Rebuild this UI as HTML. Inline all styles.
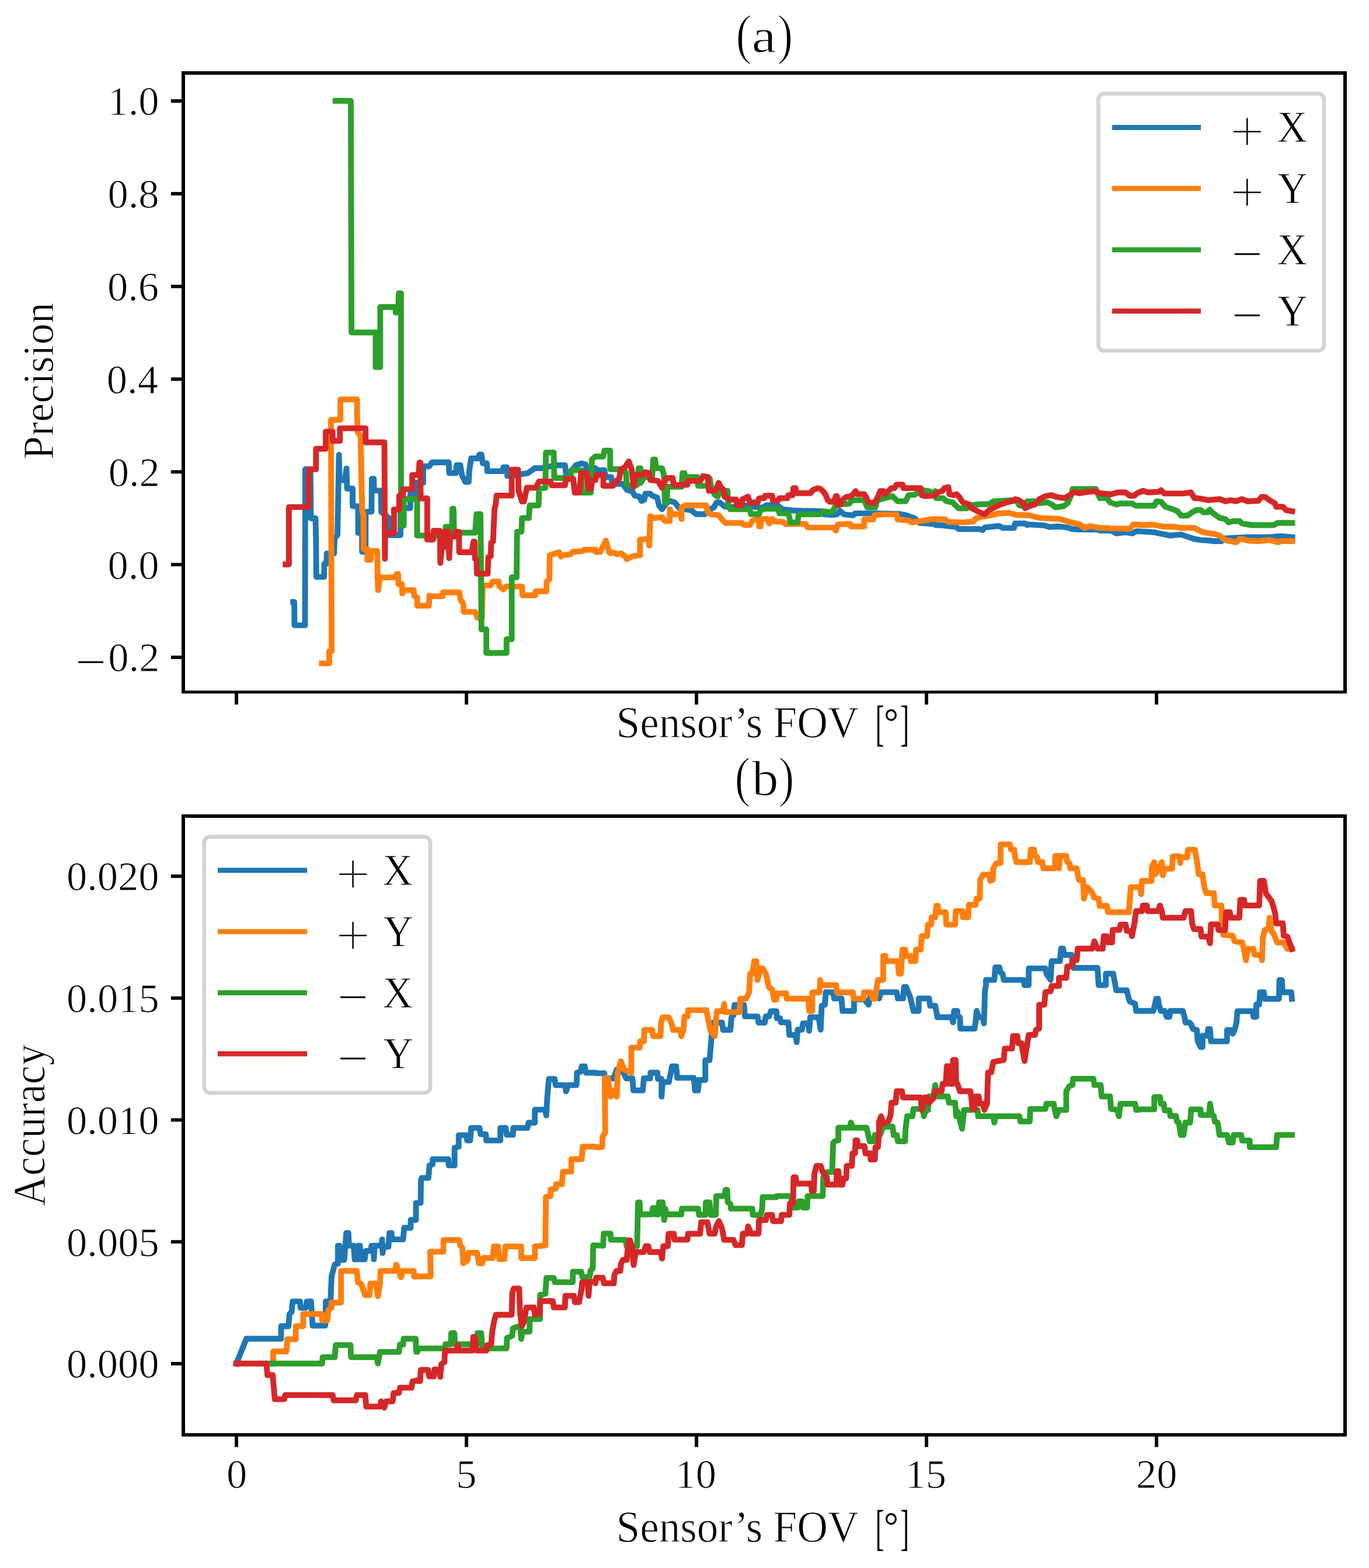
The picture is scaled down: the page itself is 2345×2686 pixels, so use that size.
<!DOCTYPE html>
<html><head><meta charset="utf-8"><title>Sensor FOV precision and accuracy</title><style>html,body{margin:0;padding:0;background:#fff;}svg{display:block;}</style></head><body>
<svg width="2345" height="2686" viewBox="0 0 2345 2686">
<rect x="0" y="0" width="2345" height="2686" fill="#ffffff"/>
<clipPath id="clipa"><rect x="314" y="125" width="1990" height="1060.5"/></clipPath>
<g clip-path="url(#clipa)">
<path d="M502.3 1031.3 L504.1 1031.3 L504.5 1071.1 L522.5 1071.1 L522.9 820.0 L522.9 803.9 L531.6 803.9 L532.1 840.0 L532.4 887.8 L540.5 887.8 L541.3 928.8 L541.8 988.3 L555.2 988.3 L555.5 965.7 L559.2 965.7 L559.7 948.1 L572.3 948.1 L573.1 922.1 L578.1 916.3 L580.6 779.0 L581.7 822.5 L591.2 822.5 L593.4 802.4 L594.5 837.0 L604.0 837.0 L604.0 867.1 L613.5 867.1 L613.5 912.9 L620.2 912.9 L620.2 945.3 L626.3 945.3 L626.3 876.6 L636.4 876.6 L636.9 820.3 L640.3 820.3 L640.8 840.4 L652.5 840.4 L653.1 877.2 L665.9 887.2 L666.5 916.8 L686.0 916.8 L686.0 870.5 L702.8 870.5 L702.8 846.5 L712.8 846.5 L712.8 827.0 L725.1 827.0 L725.0 827.1 L725.0 798.7 L735.1 798.7 L740.1 792.0 L768.6 792.0 L769.4 810.4 L781.1 810.4 L781.9 797.0 L788.6 797.0 L791.2 813.8 L797.0 825.5 L802.9 825.5 L803.7 807.1 L807.1 785.3 L818.8 785.3 L821.3 778.6 L824.6 778.6 L827.1 793.7 L833.8 793.7 L834.7 807.1 L860.6 807.1 L862.3 800.4 L868.2 800.4 L869.0 815.4 L875.7 815.4 L894.1 812.1 L904.2 810.4 L909.2 807.1 L915.9 802.0 L929.3 802.0 L942.7 798.7 L954.4 797.0 L967.8 797.0 L969.5 811.2 L976.2 811.2 L986.2 797.0 L996.2 793.7 L1002.9 795.3 L1004.6 802.9 L1020.0 802.0 L1020.1 805.5 L1035.2 805.5 L1037.7 817.2 L1046.9 817.2 L1048.6 827.2 L1055.2 828.9 L1067.0 828.9 L1073.7 839.0 L1083.7 842.3 L1087.1 849.0 L1095.4 850.7 L1098.8 858.2 L1103.8 855.7 L1105.5 845.7 L1113.8 845.7 L1117.2 849.0 L1125.6 852.4 L1128.9 865.7 L1133.9 872.4 L1139.0 865.7 L1145.7 857.4 L1155.7 860.7 L1164.1 870.8 L1184.2 874.1 L1192.5 880.8 L1207.6 880.8 L1214.3 874.1 L1222.7 869.1 L1227.7 860.7 L1232.7 860.7 L1241.1 867.4 L1251.1 869.1 L1276.2 865.7 L1300.0 869.1 L1300.0 869.8 L1307.3 869.0 L1312.5 865.5 L1331.5 865.5 L1340.2 872.4 L1355.7 874.2 L1373.0 875.0 L1407.6 875.6 L1411.1 881.1 L1424.9 882.0 L1433.6 881.1 L1438.8 875.0 L1445.7 881.1 L1461.3 882.8 L1464.7 879.4 L1504.5 879.4 L1539.1 880.2 L1552.9 882.8 L1566.8 888.0 L1575.4 895.8 L1600.0 897.5 L1602.1 899.2 L1615.9 900.1 L1629.8 901.8 L1638.4 902.7 L1641.9 906.2 L1676.5 906.2 L1683.4 907.9 L1686.9 903.6 L1702.4 901.8 L1711.1 901.0 L1718.0 904.4 L1737.0 904.4 L1738.8 896.7 L1756.1 896.7 L1759.5 899.2 L1763.0 898.4 L1788.9 900.1 L1797.6 902.7 L1814.9 901.8 L1828.7 903.6 L1835.6 906.2 L1849.5 907.0 L1866.8 907.0 L1880.6 907.0 L1884.1 908.8 L1900.0 908.8 L1905.2 909.9 L1912.8 913.7 L1927.9 911.8 L1939.3 913.7 L1946.9 909.9 L1977.3 911.8 L1984.9 913.7 L1996.2 915.6 L2003.8 917.5 L2022.8 915.6 L2034.2 919.4 L2045.6 923.2 L2057.0 925.1 L2072.1 926.0 L2079.7 927.0 L2093.0 927.0 L2098.7 922.2 L2117.7 921.3 L2136.7 920.3 L2155.6 920.3 L2174.6 920.3 L2193.6 918.4 L2213.5 920.3" fill="none" stroke="#1f77b4" stroke-width="9.9" stroke-linecap="square" stroke-linejoin="round"/>
<path d="M551.3 1136.4 L563.9 1136.4 L563.9 1115.5 L568.1 1115.5 L567.2 820.0 L566.9 719.3 L583.1 719.3 L583.1 684.2 L611.6 684.2 L611.6 707.6 L612.8 741.1 L617.5 746.1 L618.3 776.2 L619.5 840.0 L620.5 875.2 L622.5 880.3 L622.8 940.5 L629.2 940.5 L629.2 959.0 L635.0 959.0 L635.9 943.9 L646.3 943.9 L646.8 987.4 L647.6 1010.9 L650.9 989.1 L677.7 989.1 L679.4 983.2 L681.9 983.2 L682.8 1000.8 L688.6 1000.8 L689.1 1016.7 L691.1 1010.9 L708.7 1010.9 L709.5 1020.9 L714.6 1023.4 L714.9 1037.6 L734.7 1037.6 L735.5 1020.1 L736.7 1021.4 L758.5 1021.4 L758.8 1014.7 L787.0 1014.7 L788.6 1026.4 L793.7 1034.7 L794.5 1048.1 L813.8 1048.1 L817.9 1058.2 L825.5 1058.2 L827.1 1002.9 L840.5 1002.9 L843.9 996.2 L853.9 996.2 L855.6 1004.6 L862.3 1009.6 L867.3 1004.6 L894.1 1004.6 L895.0 1019.7 L916.7 1019.7 L917.6 1013.0 L936.0 1013.0 L936.3 996.2 L941.0 992.9 L941.8 951.0 L957.7 946.0 L961.1 953.6 L964.4 951.0 L977.8 949.4 L981.2 945.2 L996.2 944.3 L1001.3 941.8 L1020.0 941.8 L1020.1 945.3 L1028.5 945.3 L1030.1 941.1 L1033.5 934.4 L1037.7 926.0 L1043.5 946.1 L1045.2 947.8 L1050.2 946.1 L1056.9 949.5 L1063.6 947.8 L1070.3 952.8 L1073.7 957.8 L1083.7 952.8 L1096.3 951.1 L1096.3 924.3 L1100.5 924.3 L1110.5 922.7 L1112.2 934.4 L1113.8 884.2 L1120.5 887.5 L1133.9 885.8 L1139.0 892.5 L1147.3 892.5 L1147.3 872.4 L1150.7 880.8 L1165.7 880.8 L1167.4 889.2 L1167.4 869.1 L1174.1 865.7 L1209.3 865.7 L1212.6 877.5 L1217.6 880.8 L1231.0 882.5 L1237.7 890.9 L1242.8 895.9 L1271.2 895.9 L1274.6 899.2 L1284.6 899.2 L1288.0 892.5 L1296.3 889.2 L1300.0 890.9 L1300.0 890.9 L1300.4 901.8 L1303.0 901.8 L1303.8 888.9 L1314.2 888.9 L1317.7 896.7 L1322.9 888.9 L1326.3 893.2 L1341.9 894.1 L1345.4 897.5 L1379.9 897.5 L1383.4 903.6 L1428.4 903.6 L1431.8 908.8 L1435.3 898.4 L1456.1 897.5 L1457.8 901.8 L1480.3 901.8 L1480.3 889.7 L1495.8 889.7 L1497.6 882.8 L1511.4 881.1 L1535.6 881.1 L1537.4 889.7 L1556.4 891.5 L1561.6 894.9 L1584.1 891.5 L1600.0 888.9 L1619.4 889.7 L1624.6 894.1 L1650.5 894.9 L1667.8 893.2 L1671.3 888.0 L1679.9 885.4 L1686.9 884.5 L1697.2 882.8 L1711.1 879.4 L1728.4 878.5 L1740.5 882.0 L1763.0 882.8 L1780.3 887.1 L1814.9 888.9 L1832.2 894.1 L1849.5 898.4 L1858.1 904.4 L1866.8 901.0 L1884.1 904.4 L1900.0 904.4 L1901.4 905.1 L1935.5 905.7 L1941.2 898.5 L1965.9 899.5 L1973.5 898.5 L1994.4 902.3 L2011.4 902.3 L2022.8 904.2 L2045.6 904.2 L2053.2 908.0 L2060.8 911.8 L2079.7 914.6 L2089.2 917.5 L2098.7 925.1 L2117.7 928.9 L2123.4 923.2 L2127.2 923.2 L2136.7 926.0 L2155.6 927.0 L2174.6 925.1 L2189.8 928.9 L2193.6 927.0 L2213.5 927.0" fill="none" stroke="#ff7f0e" stroke-width="9.9" stroke-linecap="square" stroke-linejoin="round"/>
<path d="M574.8 172.7 L600.9 172.7 L602.1 569.5 L643.4 569.5 L643.4 628.9 L651.3 628.9 L651.3 526.0 L677.7 526.0 L677.7 535.2 L681.9 535.2 L683.1 502.5 L686.9 502.5 L686.9 840.0 L687.1 900.6 L691.6 900.6 L691.6 854.9 L714.5 854.9 L714.5 917.4 L728.4 917.4 L726.7 917.6 L761.9 917.6 L763.5 902.5 L774.4 902.5 L774.9 871.5 L776.9 871.5 L777.8 912.5 L813.8 912.5 L816.3 880.7 L823.0 880.7 L823.8 954.4 L824.7 1078.3 L833.1 1078.3 L833.1 1118.5 L867.7 1118.5 L867.7 1095.0 L876.6 1095.0 L876.6 989.0 L885.0 989.0 L884.9 987.9 L885.7 910.9 L893.3 910.9 L894.1 887.4 L905.8 887.4 L907.5 865.7 L922.6 865.7 L923.4 837.2 L934.3 835.5 L935.1 775.2 L948.5 775.2 L949.4 818.8 L977.8 818.8 L978.7 805.4 L995.4 805.4 L997.1 843.9 L1012.1 843.9 L1013.8 787.0 L1020.0 781.9 L1020.1 782.0 L1033.5 782.0 L1035.2 772.0 L1045.2 772.0 L1045.2 803.8 L1067.0 803.8 L1072.0 808.8 L1073.7 830.6 L1078.7 832.3 L1091.2 830.6 L1093.8 802.1 L1097.1 802.1 L1097.1 827.2 L1103.8 817.2 L1117.2 817.2 L1118.9 787.1 L1122.2 787.1 L1123.9 802.1 L1133.9 802.1 L1137.3 813.8 L1139.0 860.7 L1142.3 860.7 L1143.1 833.9 L1167.4 833.9 L1169.1 810.5 L1172.4 810.5 L1174.1 817.2 L1194.2 817.2 L1195.9 832.3 L1214.3 832.3 L1216.0 820.5 L1217.6 832.3 L1224.3 847.3 L1229.4 850.7 L1232.7 844.0 L1246.1 840.6 L1247.8 867.4 L1251.1 872.4 L1284.6 872.4 L1286.3 880.8 L1300.0 880.8 L1300.0 880.7 L1303.8 872.4 L1310.8 871.6 L1333.2 871.6 L1335.0 879.4 L1350.5 879.4 L1354.0 894.9 L1366.1 894.9 L1367.8 881.1 L1404.2 881.1 L1411.1 875.9 L1424.9 877.6 L1431.8 865.5 L1438.8 863.8 L1454.3 862.9 L1459.5 856.9 L1480.3 856.9 L1485.5 869.0 L1499.3 869.0 L1502.8 856.9 L1514.9 853.4 L1528.7 849.9 L1537.4 858.6 L1551.2 858.6 L1556.4 848.2 L1566.8 847.4 L1580.6 839.6 L1591.0 841.3 L1600.0 846.5 L1602.1 841.3 L1603.8 853.4 L1615.9 853.4 L1621.1 858.6 L1631.5 860.3 L1636.7 865.5 L1641.9 870.7 L1655.7 870.7 L1662.7 865.5 L1679.9 863.8 L1693.8 863.8 L1702.4 858.6 L1733.6 856.9 L1742.2 858.6 L1745.7 865.5 L1752.6 867.2 L1759.5 858.6 L1773.4 858.6 L1780.3 862.1 L1794.1 860.3 L1801.0 863.8 L1808.0 869.0 L1821.8 867.2 L1828.7 862.1 L1835.6 846.5 L1837.4 837.8 L1877.1 837.8 L1884.1 853.4 L1896.2 853.4 L1900.0 858.6 L1901.4 860.6 L1912.8 864.4 L1918.5 862.5 L1939.3 862.5 L1945.0 866.2 L1977.3 866.2 L1981.1 858.7 L1988.7 859.6 L1996.2 868.1 L2007.6 871.9 L2017.1 875.7 L2022.8 883.3 L2034.2 883.3 L2041.8 877.6 L2049.4 873.8 L2057.0 873.8 L2060.8 877.6 L2068.3 877.6 L2072.1 872.9 L2075.9 877.6 L2089.2 887.1 L2098.7 889.0 L2104.4 894.7 L2112.0 892.8 L2123.4 892.8 L2127.2 896.6 L2144.2 899.5 L2182.2 899.5 L2187.9 895.7 L2213.5 895.7" fill="none" stroke="#2ca02c" stroke-width="9.9" stroke-linecap="square" stroke-linejoin="round"/>
<path d="M489.2 966.8 L494.9 966.8 L494.9 868.6 L528.7 868.6 L528.7 820.0 L529.6 803.9 L541.3 803.9 L541.3 768.7 L558.0 768.7 L558.0 739.4 L569.8 739.4 L569.8 755.3 L582.3 755.3 L582.3 733.6 L626.2 733.6 L626.2 757.8 L658.5 757.8 L659.3 957.3 L659.8 913.5 L674.9 913.5 L674.9 872.7 L683.8 872.7 L683.8 849.3 L690.5 848.2 L690.5 838.1 L706.1 838.1 L706.1 813.6 L717.3 813.6 L718.4 792.4 L720.1 792.4 L720.6 853.8 L731.8 853.8 L731.8 924.1 L731.7 924.3 L741.8 924.3 L742.6 909.2 L753.5 909.2 L754.3 964.4 L756.8 937.6 L761.9 937.6 L762.7 910.9 L768.6 910.9 L769.4 956.1 L771.1 919.2 L777.8 919.2 L780.3 910.9 L786.1 910.9 L786.6 946.0 L807.9 946.0 L811.2 927.6 L812.9 927.6 L813.8 957.7 L816.3 959.4 L816.8 982.8 L835.5 982.8 L836.4 954.4 L840.5 952.7 L841.4 929.3 L844.7 927.6 L845.6 904.2 L847.2 870.7 L848.9 865.7 L850.6 848.9 L876.5 848.9 L876.5 804.5 L887.4 804.5 L888.3 840.5 L894.1 859.0 L897.5 859.0 L902.5 835.5 L917.6 835.5 L923.4 824.6 L942.7 824.6 L945.2 831.3 L967.8 831.3 L969.5 820.5 L982.0 820.5 L984.5 843.9 L992.1 843.9 L995.4 810.4 L1005.5 810.4 L1007.1 837.2 L1012.1 837.2 L1014.7 822.1 L1020.0 822.1 L1020.1 822.4 L1021.8 813.8 L1033.5 813.8 L1033.5 832.3 L1050.2 832.3 L1055.2 823.9 L1060.3 820.5 L1063.6 803.8 L1070.3 800.5 L1077.0 790.4 L1082.0 803.8 L1085.4 833.9 L1088.7 813.8 L1100.5 813.8 L1105.5 808.8 L1112.2 810.5 L1113.8 822.2 L1127.2 823.9 L1133.9 835.6 L1139.0 823.9 L1142.3 818.9 L1152.4 818.9 L1154.0 830.6 L1177.5 830.6 L1177.5 823.9 L1199.2 823.9 L1204.3 815.5 L1212.6 817.2 L1214.3 840.6 L1226.0 840.6 L1231.0 827.2 L1234.4 833.9 L1239.4 839.0 L1241.1 850.7 L1251.1 855.7 L1261.2 855.7 L1262.8 865.7 L1271.2 865.7 L1271.2 855.7 L1281.3 850.7 L1284.6 860.7 L1298.0 860.7 L1300.0 854.0 L1300.0 854.3 L1302.1 853.4 L1309.0 853.4 L1310.8 849.1 L1322.9 849.1 L1323.7 857.7 L1333.2 856.9 L1335.0 853.4 L1348.8 853.4 L1350.5 848.2 L1357.5 848.2 L1359.2 836.1 L1362.7 836.1 L1364.4 844.8 L1388.6 844.8 L1392.1 839.6 L1400.7 836.1 L1405.9 837.8 L1411.1 843.0 L1414.5 848.2 L1418.0 856.9 L1421.5 859.5 L1428.4 859.5 L1431.8 849.9 L1433.6 849.9 L1435.3 865.5 L1440.5 863.8 L1442.2 856.9 L1449.1 851.7 L1457.8 849.9 L1463.0 844.8 L1465.6 841.3 L1468.2 846.5 L1480.3 846.5 L1483.7 851.7 L1487.2 860.3 L1497.6 862.1 L1502.8 853.4 L1508.0 841.3 L1513.1 841.3 L1514.9 846.5 L1521.8 841.3 L1527.0 836.1 L1532.2 836.1 L1535.6 830.1 L1546.0 830.1 L1547.7 836.1 L1577.1 836.1 L1578.9 848.2 L1584.1 849.9 L1600.0 849.1 L1607.3 843.0 L1614.2 841.3 L1617.7 836.1 L1624.6 834.4 L1626.3 846.5 L1633.2 848.2 L1638.4 846.5 L1643.6 851.7 L1648.8 860.3 L1659.2 863.8 L1664.4 870.7 L1671.3 874.2 L1681.7 879.4 L1686.9 881.1 L1693.8 874.2 L1700.7 870.7 L1707.6 867.2 L1714.5 863.8 L1724.9 860.3 L1733.6 858.6 L1738.8 855.1 L1745.7 856.9 L1752.6 862.1 L1756.1 870.7 L1763.0 867.2 L1773.4 863.8 L1780.3 855.1 L1790.7 849.9 L1801.0 848.2 L1811.4 851.7 L1823.5 853.4 L1832.2 848.2 L1839.1 843.0 L1849.5 844.8 L1859.8 843.0 L1875.4 841.3 L1884.1 844.8 L1900.0 846.5 L1901.4 847.3 L1914.7 843.5 L1927.9 843.5 L1935.5 849.2 L1943.1 849.2 L1946.9 845.4 L1958.3 840.6 L1965.9 843.5 L1984.9 842.5 L1988.7 839.7 L1994.4 845.4 L2026.6 845.4 L2039.9 843.5 L2045.6 853.0 L2055.1 853.9 L2070.2 856.8 L2089.2 854.9 L2098.7 858.7 L2108.2 856.8 L2117.7 858.7 L2127.2 854.9 L2136.7 858.7 L2155.6 857.7 L2161.3 851.1 L2167.0 851.1 L2174.6 856.8 L2184.1 862.5 L2186.0 868.1 L2197.4 868.1 L2203.1 873.8 L2213.5 875.7" fill="none" stroke="#d62728" stroke-width="9.9" stroke-linecap="square" stroke-linejoin="round"/>
</g>
<path d="M311.0 122.0H2307.0V1187.9H311.0Z M317.0 127.9V1183.0H2301.0V127.9Z" fill="#000" fill-rule="evenodd"/>
<rect x="402.05" y="1185.5" width="5.9" height="21.40" fill="#000"/>
<rect x="796.05" y="1185.5" width="5.9" height="21.40" fill="#000"/>
<rect x="1190.05" y="1185.5" width="5.9" height="21.40" fill="#000"/>
<rect x="1584.05" y="1185.5" width="5.9" height="21.40" fill="#000"/>
<rect x="1978.05" y="1185.5" width="5.9" height="21.40" fill="#000"/>
<rect x="292.9" y="170.07" width="21.10" height="5.86" fill="#000"/>
<rect x="292.9" y="328.90" width="21.10" height="5.86" fill="#000"/>
<rect x="292.9" y="487.74" width="21.10" height="5.86" fill="#000"/>
<rect x="292.9" y="646.57" width="21.10" height="5.86" fill="#000"/>
<rect x="292.9" y="805.41" width="21.10" height="5.86" fill="#000"/>
<rect x="292.9" y="964.24" width="21.10" height="5.86" fill="#000"/>
<rect x="292.9" y="1123.07" width="21.10" height="5.86" fill="#000"/>
<g font-family="'Liberation Serif', 'DejaVu Serif', serif" fill="#000">
<text stroke="#fff" stroke-width="1.4" transform="translate(184.42 197.45) scale(0.7050 0.7000)" x="0" y="0" font-size="100">1.0</text>
<text stroke="#fff" stroke-width="1.4" transform="translate(184.42 356.28) scale(0.7050 0.7000)" x="0" y="0" font-size="100">0.8</text>
<text stroke="#fff" stroke-width="1.4" transform="translate(183.89 515.12) scale(0.7050 0.7000)" x="0" y="0" font-size="100">0.6</text>
<text stroke="#fff" stroke-width="1.4" transform="translate(182.83 673.95) scale(0.7050 0.7000)" x="0" y="0" font-size="100">0.4</text>
<text stroke="#fff" stroke-width="1.4" transform="translate(185.65 832.79) scale(0.7050 0.7000)" x="0" y="0" font-size="100">0.2</text>
<text stroke="#fff" stroke-width="1.4" transform="translate(184.42 991.62) scale(0.7050 0.7000)" x="0" y="0" font-size="100">0.0</text>
<text stroke="#fff" stroke-width="1.4" transform="translate(185.25 1150.45) scale(0.7050 0.7000)" x="0" y="0" font-size="100">0.2</text>
<text transform="translate(129.48 1153.65) scale(0.9230 0.6000)" x="0" y="0" font-size="100">&#8722;</text>
<text stroke="#fff" stroke-width="1.4" transform="translate(1055.56 1263.20) scale(0.7318 0.7542)" x="0" y="0" font-size="100">Sensor&#8217;s FOV</text>
<text transform="translate(1499.53 1268.38) scale(0.4494 0.8386)" x="0" y="0" font-size="100">[</text>
<text transform="translate(1514.03 1258.53) scale(0.6248 0.6545)" x="0" y="0" font-size="100">&#176;</text>
<text transform="translate(1542.33 1268.38) scale(0.4489 0.8386)" x="0" y="0" font-size="100">]</text>
<text stroke="#fff" stroke-width="1.4" transform="translate(90.76 787.17) rotate(-90) scale(0.7233 0.7361)" x="0" y="0" font-size="100">Precision</text>
<text stroke="#fff" stroke-width="2.0" transform="translate(1260.16 90.57) scale(0.8314 0.9613)" x="0" y="0" font-size="100">(</text>
<text stroke="#fff" stroke-width="1.4" transform="translate(1287.38 88.90) scale(0.9494 0.8021)" x="0" y="0" font-size="100">a</text>
<text stroke="#fff" stroke-width="2.0" transform="translate(1331.15 90.57) scale(0.8155 0.9613)" x="0" y="0" font-size="100">)</text>
</g>
<rect x="1881.4" y="160.4" width="386.5499999999997" height="440.35" rx="10" ry="10" fill="#ffffff" fill-opacity="0.8" stroke="#d3d3d3" stroke-width="6.7"/>
<g font-family="'Liberation Serif', 'DejaVu Serif', serif" fill="#000">
<line x1="1909.4" y1="218.3" x2="2052.6" y2="218.3" stroke="#1f77b4" stroke-width="8.8" stroke-linecap="square"/>
<text stroke="#fff" stroke-width="2.6" transform="translate(2106.37 259.77) scale(1.0667 1.0473)" x="0" y="0" font-size="100">+</text>
<text stroke="#fff" stroke-width="1.4" transform="translate(2187.38 243.10) scale(0.7179 0.7542)" x="0" y="0" font-size="100">X</text>
<line x1="1909.4" y1="322.9" x2="2052.6" y2="322.9" stroke="#ff7f0e" stroke-width="8.8" stroke-linecap="square"/>
<text stroke="#fff" stroke-width="2.6" transform="translate(2106.37 364.37) scale(1.0667 1.0473)" x="0" y="0" font-size="100">+</text>
<text stroke="#fff" stroke-width="1.4" transform="translate(2188.29 347.70) scale(0.7127 0.7542)" x="0" y="0" font-size="100">Y</text>
<line x1="1909.4" y1="427.8" x2="2052.6" y2="427.8" stroke="#2ca02c" stroke-width="8.8" stroke-linecap="square"/>
<text transform="translate(2110.29 455.35) scale(0.9230 0.6000)" x="0" y="0" font-size="100">&#8722;</text>
<text stroke="#fff" stroke-width="1.4" transform="translate(2187.38 452.60) scale(0.7179 0.7542)" x="0" y="0" font-size="100">X</text>
<line x1="1909.4" y1="532.9" x2="2052.6" y2="532.9" stroke="#d62728" stroke-width="8.8" stroke-linecap="square"/>
<text transform="translate(2110.29 560.45) scale(0.9230 0.6000)" x="0" y="0" font-size="100">&#8722;</text>
<text stroke="#fff" stroke-width="1.4" transform="translate(2188.29 557.70) scale(0.7127 0.7542)" x="0" y="0" font-size="100">Y</text>
</g>
<clipPath id="clipb"><rect x="314" y="1398" width="1990" height="1060"/></clipPath>
<g clip-path="url(#clipb)">
<path d="M404.9 2335.7 L422.0 2293.3 L481.5 2293.3 L481.5 2271.7 L494.1 2271.7 L495.9 2251.0 L499.5 2247.4 L501.3 2229.4 L513.9 2229.4 L514.8 2240.2 L523.8 2240.2 L525.6 2229.4 L532.8 2229.4 L535.5 2270.8 L557.2 2270.8 L558.1 2229.4 L566.2 2228.5 L568.0 2186.1 L573.4 2166.3 L578.8 2164.5 L578.8 2133.9 L581.5 2133.9 L582.4 2158.2 L589.6 2158.2 L593.2 2112.3 L596.8 2112.3 L597.7 2133.9 L605.8 2133.9 L607.6 2157.3 L613.0 2157.3 L613.9 2133.9 L616.6 2133.9 L618.4 2157.3 L624.7 2157.3 L626.5 2142.9 L634.6 2142.9 L636.4 2133.9 L640.0 2133.9 L640.4 2157.3 L641.8 2133.9 L653.6 2133.9 L654.5 2123.1 L655.4 2146.5 L657.2 2135.7 L665.3 2135.7 L667.1 2112.3 L670.7 2112.3 L671.6 2123.1 L690.5 2123.1 L692.3 2103.2 L703.5 2103.2 L703.5 2089.7 L712.5 2089.7 L712.5 2060.9 L720.5 2060.4 L721.1 2021.4 L722.3 2017.9 L733.9 2017.9 L735.7 1996.4 L741.1 1994.6 L741.1 1985.7 L767.9 1985.7 L768.8 1996.4 L778.6 1996.4 L778.6 1966.1 L785.7 1964.3 L785.7 1944.6 L800.0 1944.6 L800.0 1953.6 L805.4 1953.6 L807.1 1932.1 L821.4 1932.1 L823.2 1942.9 L832.1 1942.9 L833.0 1953.6 L857.1 1953.6 L857.1 1932.1 L866.1 1932.1 L867.9 1943.8 L878.6 1943.8 L879.5 1932.1 L903.6 1932.1 L905.4 1923.2 L916.1 1923.2 L916.1 1900.9 L933.9 1900.9 L935.7 1910.7 L937.5 1878.6 L940.2 1848.2 L950.0 1848.2 L951.8 1858.9 L967.9 1858.9 L969.6 1869.6 L973.2 1858.9 L987.5 1858.9 L988.4 1837.5 L994.6 1835.7 L996.4 1826.8 L1001.8 1826.8 L1003.6 1837.5 L1020.0 1837.5 L1020.0 1838.4 L1035.0 1838.4 L1036.8 1847.3 L1051.1 1847.3 L1056.4 1832.1 L1061.8 1832.1 L1068.9 1839.3 L1072.5 1847.3 L1083.2 1847.3 L1085.0 1867.9 L1101.1 1867.9 L1102.9 1847.3 L1113.6 1847.3 L1114.5 1837.5 L1126.1 1837.5 L1127.0 1848.2 L1133.2 1848.2 L1133.2 1878.6 L1135.0 1853.6 L1145.7 1853.6 L1147.5 1844.6 L1151.1 1826.8 L1158.2 1826.8 L1160.0 1846.4 L1188.6 1846.4 L1190.4 1867.9 L1195.7 1867.9 L1197.5 1850.0 L1208.2 1850.0 L1208.2 1816.1 L1215.4 1816.1 L1217.1 1796.4 L1218.9 1775.0 L1221.6 1751.8 L1236.8 1751.8 L1238.6 1764.3 L1251.1 1764.3 L1252.9 1742.9 L1256.4 1739.3 L1258.2 1721.4 L1274.3 1721.4 L1276.1 1741.1 L1297.5 1741.1 L1299.3 1751.8 L1310.0 1751.8 L1311.8 1741.1 L1317.1 1741.1 L1320.7 1732.1 L1330.0 1732.1 L1330.0 1733.6 L1330.7 1744.3 L1336.1 1744.3 L1337.9 1751.4 L1350.4 1751.4 L1352.1 1772.9 L1362.9 1772.9 L1364.6 1785.4 L1366.4 1763.9 L1373.6 1763.9 L1375.4 1753.2 L1384.3 1753.2 L1386.1 1765.7 L1387.9 1742.5 L1402.1 1742.5 L1405.7 1763.9 L1407.5 1722.9 L1412.9 1721.1 L1414.6 1699.6 L1427.1 1699.6 L1428.9 1710.4 L1441.4 1710.4 L1443.2 1731.8 L1462.9 1731.8 L1462.9 1712.1 L1480.7 1712.1 L1487.9 1721.1 L1491.4 1703.2 L1505.7 1710.4 L1509.3 1699.6 L1536.1 1699.6 L1537.9 1710.4 L1546.8 1710.4 L1548.6 1690.7 L1552.1 1690.7 L1555.7 1699.6 L1559.3 1708.6 L1564.6 1731.8 L1573.6 1731.8 L1573.6 1710.4 L1591.4 1710.4 L1593.2 1722.9 L1602.1 1722.9 L1605.7 1742.5 L1630.7 1742.5 L1632.5 1751.4 L1634.3 1731.8 L1640.0 1731.8 L1640.0 1740.7 L1644.3 1742.5 L1645.2 1762.1 L1669.3 1762.1 L1671.1 1751.4 L1672.9 1731.8 L1676.4 1742.5 L1683.6 1742.5 L1685.4 1753.2 L1687.1 1697.9 L1688.9 1687.1 L1688.9 1678.6 L1703.2 1678.6 L1705.0 1657.1 L1712.1 1657.1 L1713.9 1666.1 L1717.5 1667.9 L1719.3 1678.6 L1753.2 1678.6 L1755.0 1687.5 L1762.1 1687.5 L1762.1 1658.9 L1790.7 1658.9 L1792.5 1667.9 L1799.6 1678.6 L1801.4 1646.4 L1815.7 1646.4 L1817.5 1625.0 L1821.1 1625.0 L1822.9 1635.7 L1835.4 1635.7 L1837.1 1646.4 L1838.9 1658.0 L1880.0 1658.0 L1881.8 1687.5 L1894.3 1687.5 L1894.3 1667.9 L1906.8 1667.9 L1912.1 1696.4 L1930.0 1696.4 L1933.6 1710.7 L1935.4 1715.7 L1944.3 1719.3 L1946.1 1731.8 L1950.0 1731.8 L1950.0 1731.8 L1975.6 1731.8 L1980.5 1711.0 L1983.7 1711.0 L1985.3 1722.4 L1988.5 1731.8 L1995.0 1731.8 L1998.3 1741.8 L2003.1 1741.8 L2004.7 1731.8 L2025.8 1731.8 L2029.0 1741.8 L2030.6 1751.5 L2037.1 1751.5 L2040.3 1754.7 L2043.6 1762.8 L2050.0 1764.4 L2051.7 1783.9 L2056.5 1793.6 L2059.8 1793.6 L2059.8 1774.2 L2067.8 1774.2 L2069.5 1762.8 L2072.7 1762.8 L2074.3 1783.9 L2101.8 1783.9 L2101.8 1764.4 L2108.3 1764.4 L2111.5 1770.9 L2114.8 1764.4 L2118.0 1751.5 L2119.6 1732.1 L2145.5 1732.1 L2147.1 1741.8 L2152.0 1741.8 L2152.0 1720.7 L2156.9 1720.7 L2158.5 1699.7 L2164.9 1699.7 L2166.6 1711.0 L2190.8 1711.0 L2191.6 1679.0 L2195.7 1679.0 L2197.3 1699.7 L2211.9 1699.7 L2213.0 1711.0" fill="none" stroke="#1f77b4" stroke-width="9.9" stroke-linecap="square" stroke-linejoin="round"/>
<path d="M468.0 2335.7 L468.0 2315.0 L490.5 2315.0 L492.3 2294.2 L506.7 2294.2 L506.7 2271.7 L519.3 2271.7 L519.3 2251.0 L551.8 2251.0 L551.8 2261.8 L560.8 2261.8 L562.6 2243.8 L568.0 2240.2 L568.0 2231.2 L584.2 2231.2 L584.2 2177.1 L611.2 2177.1 L613.0 2196.9 L618.4 2198.7 L625.6 2218.6 L632.8 2218.6 L634.6 2198.7 L643.6 2198.7 L647.3 2220.4 L650.9 2198.7 L651.8 2177.1 L676.1 2177.1 L678.8 2166.3 L683.3 2177.1 L686.9 2187.9 L690.5 2177.1 L708.5 2177.1 L710.3 2187.0 L709.0 2186.5 L737.8 2186.5 L736.9 2144.1 L759.5 2144.1 L759.5 2124.3 L786.5 2124.3 L788.3 2133.3 L791.9 2136.9 L793.7 2164.0 L800.9 2158.6 L802.7 2145.9 L817.1 2145.9 L820.7 2164.0 L826.1 2164.0 L827.9 2155.0 L844.1 2155.0 L845.9 2135.1 L853.2 2135.1 L855.0 2156.8 L864.0 2156.8 L865.8 2135.1 L892.8 2135.1 L892.8 2155.0 L916.2 2155.0 L916.2 2135.1 L934.2 2133.3 L935.1 2050.5 L943.2 2048.6 L943.2 2037.8 L952.3 2036.0 L952.3 2028.8 L962.5 2028.6 L964.3 2007.1 L978.6 2007.1 L978.6 1985.7 L996.4 1985.7 L998.2 1964.3 L1020.0 1964.3 L1020.0 1965.0 L1031.4 1965.0 L1032.3 1947.1 L1036.8 1940.0 L1035.9 1846.4 L1041.2 1846.4 L1045.7 1878.6 L1051.1 1867.9 L1056.4 1878.6 L1058.2 1837.5 L1063.6 1817.9 L1068.9 1832.1 L1081.4 1837.5 L1081.4 1794.6 L1095.7 1794.6 L1096.6 1783.9 L1102.9 1783.9 L1103.8 1764.3 L1117.1 1764.3 L1118.9 1775.0 L1131.4 1775.0 L1132.3 1751.8 L1135.0 1742.9 L1145.7 1742.9 L1151.1 1755.4 L1152.9 1764.3 L1165.4 1764.3 L1167.1 1775.0 L1170.7 1764.3 L1172.5 1741.1 L1177.9 1741.1 L1178.8 1730.4 L1210.0 1730.4 L1213.6 1750.0 L1217.1 1766.1 L1224.3 1775.0 L1227.9 1732.1 L1238.6 1732.1 L1240.4 1719.6 L1242.1 1733.9 L1267.1 1733.9 L1268.0 1710.7 L1277.9 1710.7 L1283.2 1700.0 L1285.0 1667.9 L1288.6 1667.9 L1292.1 1646.4 L1295.7 1646.4 L1297.5 1678.6 L1302.9 1658.9 L1306.4 1658.9 L1311.8 1667.9 L1317.1 1691.1 L1322.5 1694.6 L1326.1 1712.5 L1330.0 1712.5 L1330.0 1711.6 L1330.7 1701.8 L1346.8 1701.8 L1347.7 1710.7 L1384.3 1710.7 L1386.1 1731.8 L1391.4 1731.8 L1391.4 1700.0 L1403.9 1700.0 L1404.8 1678.6 L1407.5 1687.5 L1432.5 1687.5 L1433.4 1700.0 L1461.1 1700.0 L1462.0 1710.7 L1478.9 1710.7 L1479.8 1700.0 L1491.4 1700.0 L1495.0 1710.7 L1498.6 1710.7 L1503.9 1678.6 L1512.9 1678.6 L1512.9 1637.5 L1516.4 1637.5 L1517.3 1646.4 L1537.9 1646.4 L1539.6 1667.9 L1543.2 1667.9 L1545.9 1626.8 L1550.4 1626.8 L1552.1 1637.5 L1559.3 1637.5 L1560.2 1646.4 L1568.2 1646.4 L1569.1 1626.8 L1577.1 1626.8 L1578.9 1603.6 L1587.9 1603.6 L1589.6 1583.9 L1595.0 1583.9 L1595.9 1571.4 L1602.1 1571.4 L1603.9 1551.8 L1606.6 1551.8 L1607.5 1562.5 L1620.0 1562.5 L1620.9 1583.9 L1636.1 1583.9 L1637.0 1560.7 L1640.0 1560.7 L1640.0 1560.7 L1648.8 1560.7 L1649.6 1571.4 L1658.6 1571.4 L1659.5 1550.0 L1671.1 1550.0 L1672.9 1539.3 L1678.2 1539.3 L1679.1 1507.1 L1683.6 1498.2 L1694.3 1498.2 L1696.1 1508.9 L1700.5 1507.1 L1701.4 1487.5 L1706.8 1478.6 L1713.9 1478.6 L1713.9 1446.4 L1730.0 1446.4 L1731.8 1455.4 L1737.1 1455.4 L1738.9 1467.9 L1740.7 1476.8 L1763.9 1476.8 L1765.7 1455.4 L1771.1 1455.4 L1772.9 1466.1 L1776.4 1467.9 L1778.2 1476.8 L1785.4 1476.8 L1787.1 1487.5 L1806.8 1487.5 L1807.7 1466.1 L1812.1 1466.1 L1813.9 1487.5 L1815.7 1466.1 L1826.4 1466.1 L1828.2 1476.8 L1831.8 1478.6 L1833.6 1487.5 L1844.3 1487.5 L1847.9 1507.1 L1855.0 1507.1 L1856.8 1539.3 L1862.1 1519.6 L1869.3 1526.8 L1874.6 1537.5 L1881.8 1539.3 L1883.6 1551.8 L1896.1 1551.8 L1897.9 1562.5 L1933.6 1562.5 L1935.4 1539.3 L1937.1 1519.6 L1950.0 1519.6 L1950.0 1519.5 L1952.9 1519.5 L1954.6 1531.7 L1956.2 1509.0 L1972.4 1509.0 L1973.2 1484.7 L1977.2 1476.6 L1978.8 1497.7 L1983.7 1489.6 L1990.2 1476.6 L1991.8 1499.3 L1995.0 1488.0 L2008.0 1488.0 L2008.8 1466.9 L2020.9 1466.9 L2021.7 1478.3 L2022.5 1468.5 L2033.9 1468.5 L2034.7 1455.6 L2046.8 1455.6 L2050.0 1473.4 L2053.3 1497.7 L2059.8 1497.7 L2063.0 1520.3 L2066.2 1530.0 L2079.2 1530.0 L2080.8 1551.1 L2092.1 1551.1 L2092.9 1578.6 L2095.4 1601.3 L2111.5 1602.9 L2114.8 1612.6 L2127.7 1614.2 L2131.0 1627.1 L2134.2 1644.9 L2137.4 1625.5 L2147.1 1625.5 L2148.8 1635.2 L2160.1 1636.9 L2161.7 1644.9 L2163.3 1606.1 L2166.6 1593.2 L2173.0 1589.9 L2174.7 1572.1 L2177.9 1594.8 L2182.7 1601.3 L2187.6 1614.2 L2198.9 1614.2 L2205.4 1625.5 L2213.0 1625.5" fill="none" stroke="#ff7f0e" stroke-width="9.9" stroke-linecap="square" stroke-linejoin="round"/>
<path d="M456.3 2335.7 L551.8 2335.7 L552.7 2324.9 L573.4 2324.9 L575.2 2304.1 L600.4 2304.1 L601.3 2324.9 L645.5 2324.9 L647.3 2335.7 L650.9 2315.9 L683.3 2315.9 L685.1 2303.2 L690.5 2303.2 L691.4 2293.3 L712.1 2293.3 L713.0 2315.9 L715.0 2315.9 L715.3 2309.9 L761.3 2309.9 L763.1 2302.7 L772.1 2302.7 L773.0 2283.8 L778.4 2283.8 L779.3 2302.7 L816.2 2302.7 L818.0 2283.8 L824.3 2283.8 L826.1 2306.3 L829.7 2309.9 L867.6 2309.9 L868.5 2291.9 L877.5 2288.3 L878.4 2275.7 L887.4 2272.1 L891.0 2273.9 L892.8 2293.7 L894.6 2281.1 L907.2 2281.1 L907.2 2259.5 L925.2 2259.5 L925.2 2218.0 L934.2 2216.2 L936.0 2189.2 L948.6 2189.2 L950.5 2196.4 L981.1 2196.4 L981.1 2178.4 L995.5 2178.4 L997.3 2187.4 L1009.9 2187.4 L1011.7 2176.6 L1015.3 2173.0 L1016.2 2133.3 L1020.0 2133.3 L1020.0 2133.4 L1033.2 2133.8 L1034.1 2113.2 L1045.7 2113.2 L1046.6 2123.9 L1071.6 2123.9 L1073.4 2134.6 L1091.2 2134.6 L1093.0 2059.6 L1095.7 2059.6 L1096.6 2080.2 L1117.1 2080.2 L1118.0 2069.5 L1121.6 2069.5 L1123.4 2080.2 L1127.9 2080.2 L1128.8 2059.6 L1135.0 2059.6 L1135.9 2070.4 L1137.7 2090.0 L1139.5 2070.4 L1142.1 2080.2 L1167.1 2080.2 L1168.0 2070.4 L1195.7 2070.4 L1197.5 2081.1 L1208.2 2081.1 L1209.1 2059.6 L1215.4 2059.6 L1217.1 2081.1 L1226.1 2081.1 L1227.0 2048.9 L1240.4 2048.9 L1243.0 2038.2 L1245.7 2038.2 L1246.6 2059.6 L1251.1 2062.3 L1252.0 2070.4 L1288.6 2070.4 L1289.5 2081.1 L1302.9 2081.1 L1305.5 2070.4 L1306.4 2050.7 L1330.0 2050.7 L1330.0 2048.9 L1355.7 2048.9 L1356.6 2068.6 L1366.4 2068.6 L1368.2 2057.9 L1373.6 2057.9 L1375.4 2068.6 L1382.5 2068.6 L1383.4 2048.9 L1409.3 2048.9 L1410.2 2016.8 L1416.4 2007.9 L1425.4 2007.9 L1427.1 1957.9 L1429.8 1955.0 L1436.1 1953.2 L1436.1 1931.8 L1455.7 1931.8 L1457.5 1922.9 L1461.1 1931.8 L1484.3 1931.8 L1489.6 1955.0 L1496.8 1955.0 L1498.6 1944.3 L1507.5 1944.3 L1512.9 1930.0 L1528.9 1930.0 L1530.7 1944.3 L1536.1 1944.3 L1537.9 1955.0 L1550.4 1955.0 L1551.2 1933.6 L1553.9 1912.1 L1562.9 1912.1 L1564.6 1899.6 L1580.7 1899.6 L1582.5 1912.1 L1586.1 1901.4 L1589.6 1901.4 L1591.4 1878.2 L1598.6 1878.2 L1602.1 1858.6 L1605.7 1878.2 L1623.6 1878.2 L1625.4 1888.9 L1636.1 1888.9 L1637.9 1912.1 L1640.0 1912.1 L1640.7 1905.0 L1647.9 1933.6 L1651.4 1901.4 L1674.6 1901.4 L1675.5 1912.1 L1701.4 1912.1 L1703.2 1922.9 L1705.0 1912.1 L1746.1 1912.1 L1747.9 1921.1 L1763.9 1921.1 L1764.8 1899.6 L1790.7 1899.6 L1792.5 1890.7 L1805.0 1890.7 L1806.8 1901.4 L1809.5 1912.1 L1813.9 1901.4 L1826.4 1901.4 L1826.4 1869.3 L1831.8 1860.4 L1837.1 1858.6 L1838.0 1847.9 L1872.9 1847.9 L1874.6 1858.6 L1885.4 1858.6 L1887.1 1878.2 L1901.4 1878.2 L1903.2 1899.6 L1913.9 1901.4 L1916.6 1912.1 L1919.3 1890.7 L1944.3 1890.7 L1946.1 1901.4 L1950.0 1901.4 L1950.0 1900.4 L1977.2 1900.4 L1977.2 1879.3 L1986.9 1879.3 L1988.5 1890.7 L1993.4 1890.7 L1995.0 1902.0 L2003.1 1902.0 L2004.7 1911.7 L2014.4 1911.7 L2016.1 1921.4 L2019.3 1923.0 L2022.5 1944.1 L2027.4 1944.1 L2030.6 1923.0 L2038.7 1923.0 L2040.3 1900.4 L2056.5 1900.4 L2056.5 1910.1 L2071.1 1910.1 L2072.7 1890.7 L2075.9 1910.1 L2079.2 1911.7 L2080.8 1921.4 L2085.6 1923.0 L2087.3 1932.7 L2088.9 1944.1 L2101.8 1944.1 L2105.1 1957.0 L2111.5 1957.0 L2113.2 1944.1 L2126.1 1944.1 L2127.7 1953.8 L2140.7 1953.8 L2140.7 1965.1 L2186.0 1965.1 L2187.6 1944.1 L2213.0 1944.1" fill="none" stroke="#2ca02c" stroke-width="9.9" stroke-linecap="square" stroke-linejoin="round"/>
<path d="M404.9 2335.7 L456.3 2335.7 L458.1 2355.5 L467.1 2355.5 L470.7 2396.9 L486.9 2396.9 L488.7 2389.7 L569.8 2389.7 L571.6 2398.7 L609.4 2398.7 L611.2 2389.7 L625.6 2389.7 L627.4 2409.5 L650.9 2409.5 L652.7 2400.5 L658.1 2411.4 L661.7 2400.5 L672.5 2400.5 L674.3 2386.1 L683.3 2386.1 L685.1 2377.1 L704.9 2377.1 L706.7 2366.3 L715.0 2364.5 L715.0 2365.8 L719.8 2365.8 L720.7 2346.8 L733.3 2346.8 L735.1 2357.7 L743.2 2357.7 L744.1 2345.9 L752.3 2345.9 L754.1 2358.6 L755.9 2336.9 L761.3 2333.3 L762.2 2313.5 L782.9 2313.5 L783.8 2303.6 L785.6 2313.5 L809.0 2313.5 L810.8 2290.1 L813.5 2290.1 L816.2 2313.5 L833.3 2313.5 L834.2 2304.5 L841.4 2302.7 L843.2 2281.1 L846.8 2261.3 L849.5 2252.3 L876.6 2252.3 L877.5 2214.4 L880.2 2207.2 L889.2 2207.2 L891.0 2250.5 L893.7 2272.1 L897.3 2264.9 L901.8 2239.6 L914.4 2239.6 L916.2 2252.3 L924.3 2250.5 L925.2 2228.8 L946.8 2228.8 L948.6 2239.6 L967.6 2239.6 L968.5 2219.8 L982.9 2219.8 L984.7 2230.6 L991.9 2230.6 L996.4 2207.2 L997.3 2196.4 L1006.3 2196.4 L1008.1 2219.8 L1009.9 2196.4 L1020.0 2194.6 L1020.1 2198.3 L1021.2 2188.8 L1032.4 2188.8 L1034.6 2198.3 L1051.4 2198.3 L1052.5 2183.8 L1055.8 2177.1 L1062.5 2177.1 L1063.7 2164.8 L1067.0 2158.1 L1073.7 2158.1 L1074.8 2142.5 L1077.6 2124.6 L1079.3 2124.6 L1082.6 2138.0 L1085.4 2167.1 L1088.2 2149.2 L1089.3 2144.7 L1102.7 2144.7 L1106.1 2134.7 L1110.5 2134.7 L1112.8 2144.7 L1131.7 2144.7 L1134.0 2155.9 L1136.2 2134.7 L1144.0 2134.7 L1145.1 2113.5 L1154.1 2113.5 L1155.2 2123.5 L1177.5 2123.5 L1178.6 2113.5 L1190.0 2113.5 L1199.3 2113.2 L1201.1 2093.6 L1211.8 2093.6 L1215.4 2113.2 L1224.3 2113.2 L1226.1 2102.5 L1231.4 2091.8 L1236.8 2104.3 L1240.4 2123.9 L1256.4 2123.9 L1260.0 2132.9 L1270.7 2132.9 L1272.5 2113.2 L1279.6 2113.2 L1281.4 2100.7 L1286.8 2113.2 L1299.3 2113.2 L1300.2 2090.0 L1311.8 2090.0 L1313.6 2081.1 L1322.5 2081.1 L1324.3 2091.8 L1330.0 2091.8 L1330.0 2091.8 L1337.9 2091.8 L1338.8 2081.1 L1352.1 2081.1 L1353.0 2061.4 L1358.4 2061.4 L1359.3 2016.8 L1362.9 2016.8 L1364.6 2027.5 L1389.6 2027.5 L1390.5 2040.0 L1394.1 2040.0 L1395.0 2011.4 L1398.6 1997.1 L1405.7 1997.1 L1409.3 2007.9 L1416.4 2016.8 L1417.3 2029.3 L1432.5 2029.3 L1433.4 2006.1 L1436.1 2006.1 L1437.9 2029.3 L1443.2 2029.3 L1445.0 2018.6 L1449.5 2018.6 L1450.4 1997.1 L1459.3 1997.1 L1460.2 1975.7 L1464.6 1975.7 L1465.5 1953.4 L1468.2 1953.4 L1470.0 1963.2 L1480.7 1963.2 L1482.5 1975.7 L1490.5 1975.7 L1491.4 1986.4 L1498.6 1986.4 L1499.5 1965.0 L1503.9 1965.0 L1505.7 1940.0 L1505.7 1922.9 L1509.3 1912.1 L1512.9 1924.6 L1521.8 1921.1 L1525.4 1910.4 L1527.1 1888.9 L1534.3 1888.9 L1536.1 1869.3 L1545.0 1869.3 L1546.8 1880.0 L1577.1 1880.0 L1578.9 1901.4 L1584.3 1880.0 L1587.9 1880.0 L1591.4 1888.9 L1598.6 1881.8 L1602.1 1869.3 L1612.9 1869.3 L1614.6 1856.8 L1620.0 1856.8 L1621.8 1826.4 L1625.4 1826.4 L1627.1 1856.8 L1631.6 1856.8 L1632.5 1815.7 L1637.0 1815.7 L1637.9 1856.8 L1640.0 1856.8 L1640.7 1858.6 L1644.3 1869.3 L1662.1 1869.3 L1663.9 1880.0 L1665.7 1899.6 L1669.3 1899.6 L1671.1 1878.2 L1676.4 1878.2 L1678.2 1890.7 L1683.6 1890.7 L1686.2 1901.4 L1690.7 1890.7 L1692.5 1837.1 L1697.9 1837.1 L1701.4 1819.3 L1719.3 1815.7 L1721.1 1796.1 L1733.6 1796.1 L1735.4 1774.6 L1742.5 1774.6 L1744.3 1787.1 L1749.6 1787.1 L1755.0 1817.5 L1758.6 1794.3 L1762.1 1772.9 L1772.9 1772.9 L1774.6 1763.9 L1780.0 1762.1 L1780.0 1721.1 L1788.9 1721.1 L1790.7 1699.6 L1799.6 1697.9 L1801.4 1688.9 L1813.9 1688.9 L1813.9 1675.0 L1826.4 1675.0 L1828.2 1655.4 L1835.4 1655.4 L1837.1 1644.6 L1844.3 1644.6 L1846.1 1625.0 L1871.1 1625.0 L1874.6 1612.5 L1880.0 1625.0 L1888.9 1625.0 L1890.7 1603.6 L1896.1 1603.6 L1897.9 1614.3 L1905.0 1614.3 L1905.9 1592.9 L1917.5 1592.9 L1919.3 1583.9 L1928.2 1583.9 L1930.0 1594.6 L1937.1 1594.6 L1938.9 1603.6 L1942.5 1585.7 L1946.1 1560.7 L1950.0 1560.7 L1950.0 1560.8 L1956.2 1560.8 L1957.8 1551.1 L1964.3 1551.1 L1965.9 1560.8 L1983.7 1560.8 L1986.9 1551.1 L1990.2 1560.8 L1991.8 1572.1 L2027.4 1572.1 L2030.6 1560.8 L2040.3 1560.8 L2042.0 1581.8 L2045.2 1591.5 L2056.5 1591.5 L2058.1 1604.5 L2069.5 1604.5 L2072.7 1615.8 L2074.3 1583.4 L2085.6 1583.4 L2087.3 1593.2 L2098.6 1593.2 L2100.2 1562.4 L2106.7 1562.4 L2108.3 1572.1 L2122.9 1572.1 L2124.5 1541.4 L2131.0 1541.4 L2132.6 1551.1 L2156.9 1551.1 L2158.5 1509.0 L2164.9 1509.0 L2168.2 1530.0 L2173.0 1536.5 L2177.9 1543.0 L2181.1 1552.7 L2184.4 1565.6 L2186.0 1581.8 L2197.3 1581.8 L2198.9 1602.9 L2205.4 1604.5 L2208.6 1614.2 L2213.0 1625.5" fill="none" stroke="#d62728" stroke-width="9.9" stroke-linecap="square" stroke-linejoin="round"/>
</g>
<path d="M311.0 1395.1H2307.0V2460.8H311.0Z M317.0 1400.9V2455.0H2301.0V1400.9Z" fill="#000" fill-rule="evenodd"/>
<rect x="402.05" y="2458" width="5.9" height="20.80" fill="#000"/>
<rect x="796.05" y="2458" width="5.9" height="20.80" fill="#000"/>
<rect x="1190.05" y="2458" width="5.9" height="20.80" fill="#000"/>
<rect x="1584.05" y="2458" width="5.9" height="20.80" fill="#000"/>
<rect x="1978.05" y="2458" width="5.9" height="20.80" fill="#000"/>
<rect x="292.9" y="2333.07" width="21.10" height="5.86" fill="#000"/>
<rect x="292.9" y="2124.32" width="21.10" height="5.86" fill="#000"/>
<rect x="292.9" y="1915.57" width="21.10" height="5.86" fill="#000"/>
<rect x="292.9" y="1706.82" width="21.10" height="5.86" fill="#000"/>
<rect x="292.9" y="1498.07" width="21.10" height="5.86" fill="#000"/>
<g font-family="'Liberation Serif', 'DejaVu Serif', serif" fill="#000">
<text stroke="#fff" stroke-width="1.4" transform="translate(113.92 2360.45) scale(0.7050 0.7000)" x="0" y="0" font-size="100">0.000</text>
<text stroke="#fff" stroke-width="1.4" transform="translate(114.09 2151.70) scale(0.7050 0.7000)" x="0" y="0" font-size="100">0.005</text>
<text stroke="#fff" stroke-width="1.4" transform="translate(113.92 1942.95) scale(0.7050 0.7000)" x="0" y="0" font-size="100">0.010</text>
<text stroke="#fff" stroke-width="1.4" transform="translate(114.09 1734.20) scale(0.7050 0.7000)" x="0" y="0" font-size="100">0.015</text>
<text stroke="#fff" stroke-width="1.4" transform="translate(113.92 1525.45) scale(0.7050 0.7000)" x="0" y="0" font-size="100">0.020</text>
<text stroke="#fff" stroke-width="1.4" transform="translate(387.88 2549.30) scale(0.7050 0.7000)" x="0" y="0" font-size="100">0</text>
<text stroke="#fff" stroke-width="1.4" transform="translate(781.26 2549.30) scale(0.7050 0.7000)" x="0" y="0" font-size="100">5</text>
<text stroke="#fff" stroke-width="1.4" transform="translate(1156.49 2549.30) scale(0.7050 0.7000)" x="0" y="0" font-size="100">10</text>
<text stroke="#fff" stroke-width="1.4" transform="translate(1550.58 2549.30) scale(0.7050 0.7000)" x="0" y="0" font-size="100">15</text>
<text stroke="#fff" stroke-width="1.4" transform="translate(1945.99 2549.30) scale(0.7050 0.7000)" x="0" y="0" font-size="100">20</text>
<text stroke="#fff" stroke-width="1.4" transform="translate(1055.56 2640.80) scale(0.7318 0.7542)" x="0" y="0" font-size="100">Sensor&#8217;s FOV</text>
<text transform="translate(1499.53 2645.98) scale(0.4494 0.8386)" x="0" y="0" font-size="100">[</text>
<text transform="translate(1514.03 2636.13) scale(0.6248 0.6545)" x="0" y="0" font-size="100">&#176;</text>
<text transform="translate(1542.33 2645.98) scale(0.4489 0.8386)" x="0" y="0" font-size="100">]</text>
<text stroke="#fff" stroke-width="1.4" transform="translate(76.19 2066.22) rotate(-90) scale(0.7243 0.7771)" x="0" y="0" font-size="100">Accuracy</text>
<text stroke="#fff" stroke-width="2.0" transform="translate(1258.29 1363.30) scale(0.8235 0.9602)" x="0" y="0" font-size="100">(</text>
<text stroke="#fff" stroke-width="1.4" transform="translate(1288.00 1361.65) scale(0.9103 0.8468)" x="0" y="0" font-size="100">b</text>
<text stroke="#fff" stroke-width="2.0" transform="translate(1333.32 1363.30) scale(0.8233 0.9602)" x="0" y="0" font-size="100">)</text>
</g>
<rect x="349.65" y="1433.45" width="387.30000000000007" height="438.5999999999999" rx="10" ry="10" fill="#ffffff" fill-opacity="0.8" stroke="#d3d3d3" stroke-width="6.7"/>
<g font-family="'Liberation Serif', 'DejaVu Serif', serif" fill="#000">
<line x1="377.4" y1="1490.8" x2="521.6" y2="1490.8" stroke="#1f77b4" stroke-width="8.8" stroke-linecap="square"/>
<text stroke="#fff" stroke-width="2.6" transform="translate(574.47 1532.27) scale(1.0667 1.0473)" x="0" y="0" font-size="100">+</text>
<text stroke="#fff" stroke-width="1.4" transform="translate(655.48 1515.60) scale(0.7179 0.7542)" x="0" y="0" font-size="100">X</text>
<line x1="377.4" y1="1595.9" x2="521.6" y2="1595.9" stroke="#ff7f0e" stroke-width="8.8" stroke-linecap="square"/>
<text stroke="#fff" stroke-width="2.6" transform="translate(574.47 1637.37) scale(1.0667 1.0473)" x="0" y="0" font-size="100">+</text>
<text stroke="#fff" stroke-width="1.4" transform="translate(656.39 1620.70) scale(0.7127 0.7542)" x="0" y="0" font-size="100">Y</text>
<line x1="377.4" y1="1700.7" x2="521.6" y2="1700.7" stroke="#2ca02c" stroke-width="8.8" stroke-linecap="square"/>
<text transform="translate(578.38 1728.25) scale(0.9230 0.6000)" x="0" y="0" font-size="100">&#8722;</text>
<text stroke="#fff" stroke-width="1.4" transform="translate(655.48 1725.50) scale(0.7179 0.7542)" x="0" y="0" font-size="100">X</text>
<line x1="377.4" y1="1805.1" x2="521.6" y2="1805.1" stroke="#d62728" stroke-width="8.8" stroke-linecap="square"/>
<text transform="translate(578.38 1832.65) scale(0.9230 0.6000)" x="0" y="0" font-size="100">&#8722;</text>
<text stroke="#fff" stroke-width="1.4" transform="translate(656.39 1829.90) scale(0.7127 0.7542)" x="0" y="0" font-size="100">Y</text>
</g>
</svg>
</body></html>
